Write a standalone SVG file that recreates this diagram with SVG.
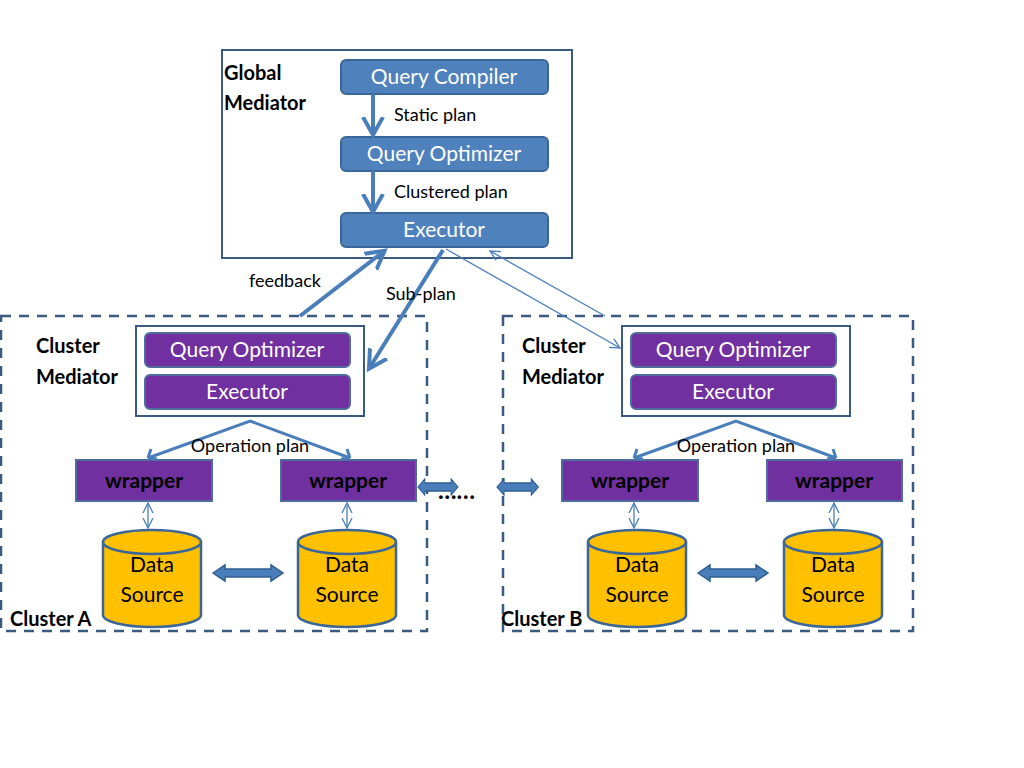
<svg xmlns="http://www.w3.org/2000/svg" width="1024" height="768" viewBox="0 0 1024 768">
<style>
text{font-family:Lato,"Open Sans","Liberation Sans",sans-serif}
.b{fill:#4f81bd;stroke:#3a6698;stroke-width:2}
.p{fill:#7030a0;stroke:#4f6c9c;stroke-width:2}
.wt{fill:#fff;font-size:21px;text-anchor:middle}
.lb{font-size:18px;fill:#000}
.bd{font-size:20px;font-weight:bold;fill:#000}
.ds{fill:#ffc000;stroke:#3a6698;stroke-width:2.5}
.dt{font-size:21px;text-anchor:middle;fill:#000}
.thick{stroke:#4a7ebb;stroke-width:4;fill:none;marker-end:url(#ah)}
.thin{stroke:#4a7ebb;stroke-width:1.3;fill:none}
.blk{fill:#4a7ebb;stroke:#2f5d8f;stroke-width:1.5}
.dash{fill:none;stroke:#3a5a80;stroke-width:2.5;stroke-dasharray:10,8}
</style>
<defs>
<marker id="ah" markerWidth="6" markerHeight="6" refX="4" refY="3" orient="auto" markerUnits="strokeWidth"><path d="M0,0.5 L4.5,3 L0,5.5" fill="none" stroke="#4a7ebb" stroke-width="1"/></marker>
<marker id="at" markerWidth="12" markerHeight="12" refX="10" refY="6" orient="auto-start-reverse" markerUnits="userSpaceOnUse"><path d="M0,1 L10,6 L0,11" fill="none" stroke="#4a7ebb" stroke-width="1.3"/></marker>
<g id="ds"><path d="M0,12 v73 a49,12 0 0 0 98,0 v-73" class="ds"/><ellipse cx="49" cy="12" rx="49" ry="12" class="ds"/></g>
<path id="blkarr" d="M0,0 l12,-8 v4 h46 v-4 l12,8 l-12,8 v-4 h-46 v4z"/>
</defs>
<rect x="0" y="0" width="1024" height="768" fill="#fff"/>
<g id="global-mediator"><rect x="222" y="50" width="350" height="208" fill="#fff" stroke="#3a5a80" stroke-width="2"/>
<text x="224" y="80" class="bd">Global</text><text x="224" y="110" class="bd">Mediator</text></g>
<g id="query-compiler"><rect x="341" y="60" width="207" height="34" rx="5" class="b"/><text x="444" y="84" class="wt">Query Compiler</text></g>
<g id="query-optimizer"><rect x="341" y="137" width="207" height="34" rx="5" class="b"/><text x="444" y="161" class="wt">Query Optimizer</text></g>
<g id="executor"><rect x="341" y="213" width="207" height="34" rx="5" class="b"/><text x="444" y="237" class="wt">Executor</text></g>
<g id="cluster-a"><rect x="1" y="316" width="426" height="315" class="dash"/><text x="10" y="626" class="bd">Cluster A</text></g>
<g id="cluster-b"><rect x="503" y="316" width="410" height="315" class="dash"/><text x="501" y="626" class="bd">Cluster B</text></g>
<g id="cluster-mediator-a"><rect x="136" y="326" width="228" height="90" fill="#fff" stroke="#3a5a80" stroke-width="2"/>
<text x="36" y="353" class="bd">Cluster</text><text x="36" y="384" class="bd">Mediator</text>
<rect x="145" y="333" width="205" height="34" rx="5" class="p"/><text x="247" y="357" class="wt">Query Optimizer</text>
<rect x="145" y="375" width="205" height="34" rx="5" class="p"/><text x="247" y="399" class="wt">Executor</text></g>
<g id="cluster-mediator-b"><rect x="622" y="326" width="228" height="90" fill="#fff" stroke="#3a5a80" stroke-width="2"/>
<text x="522" y="353" class="bd">Cluster</text><text x="522" y="384" class="bd">Mediator</text>
<rect x="631" y="333" width="205" height="34" rx="5" class="p"/><text x="733" y="357" class="wt">Query Optimizer</text>
<rect x="631" y="375" width="205" height="34" rx="5" class="p"/><text x="733" y="399" class="wt">Executor</text></g>
<g id="wrappers">
<rect x="76" y="460" width="136" height="41" class="p"/><text x="144" y="488" class="dt" font-weight="bold">wrapper</text>
<rect x="281" y="460" width="135" height="41" class="p"/><text x="348" y="488" class="dt" font-weight="bold">wrapper</text>
<rect x="562" y="460" width="136" height="41" class="p"/><text x="630" y="488" class="dt" font-weight="bold">wrapper</text>
<rect x="767" y="460" width="135" height="41" class="p"/><text x="834" y="488" class="dt" font-weight="bold">wrapper</text></g>
<g id="data-sources">
<use href="#ds" x="103" y="530"/><text x="152" y="572" class="dt">Data</text><text x="152" y="602" class="dt">Source</text>
<use href="#ds" x="298" y="530"/><text x="347" y="572" class="dt">Data</text><text x="347" y="602" class="dt">Source</text>
<use href="#ds" x="588" y="530"/><text x="637" y="572" class="dt">Data</text><text x="637" y="602" class="dt">Source</text>
<use href="#ds" x="784" y="530"/><text x="833" y="572" class="dt">Data</text><text x="833" y="602" class="dt">Source</text></g>
<g id="connectors">
<line x1="373" y1="94" x2="373" y2="133" class="thick"/>
<line x1="373" y1="171" x2="373" y2="210" class="thick"/>
<text x="394" y="121" class="lb">Static plan</text><text x="394" y="198" class="lb">Clustered plan</text>
<line x1="300" y1="316" x2="383" y2="252" class="thick"/>
<line x1="443" y1="250" x2="370" y2="367" class="thick"/>
<text x="249" y="287" class="lb">feedback</text><text x="386" y="300" class="lb">Sub-plan</text>
<line x1="446" y1="249" x2="620" y2="348" class="thin" marker-end="url(#at)"/>
<line x1="605" y1="316" x2="490" y2="251" class="thin" marker-end="url(#at)"/>
<polyline points="148,458 250,421 350,458" fill="none" stroke="#4a7ebb" stroke-width="3"/>
<path d="M148,458 l3,-9 M148,458 l9,1 M350,458 l-9,1 M350,458 l-3,-9" stroke="#4a7ebb" stroke-width="3"/>
<polyline points="634,458 736,421 836,458" fill="none" stroke="#4a7ebb" stroke-width="3"/>
<path d="M634,458 l3,-9 M634,458 l9,1 M836,458 l-9,1 M836,458 l-3,-9" stroke="#4a7ebb" stroke-width="3"/>
<text x="250" y="452" class="lb" text-anchor="middle">Operation plan</text>
<text x="736" y="452" class="lb" text-anchor="middle">Operation plan</text>
<line x1="148" y1="503" x2="148" y2="528" class="thin" marker-start="url(#at)" marker-end="url(#at)"/>
<line x1="347" y1="503" x2="347" y2="528" class="thin" marker-start="url(#at)" marker-end="url(#at)"/>
<line x1="634" y1="503" x2="634" y2="528" class="thin" marker-start="url(#at)" marker-end="url(#at)"/>
<line x1="834" y1="503" x2="834" y2="528" class="thin" marker-start="url(#at)" marker-end="url(#at)"/>
<use href="#blkarr" x="213" y="573" class="blk"/>
<use href="#blkarr" x="698" y="573" class="blk"/>
<use href="#blkarr" x="418" y="487" class="blk" transform="translate(418,487) scale(0.57,1) translate(-418,-487)"/>
<use href="#blkarr" x="497" y="487" class="blk" transform="translate(497,487) scale(0.59,1) translate(-497,-487)"/>
<text x="438" y="499" font-size="24" font-weight="bold" fill="#000">……</text>
</g>
</svg>
